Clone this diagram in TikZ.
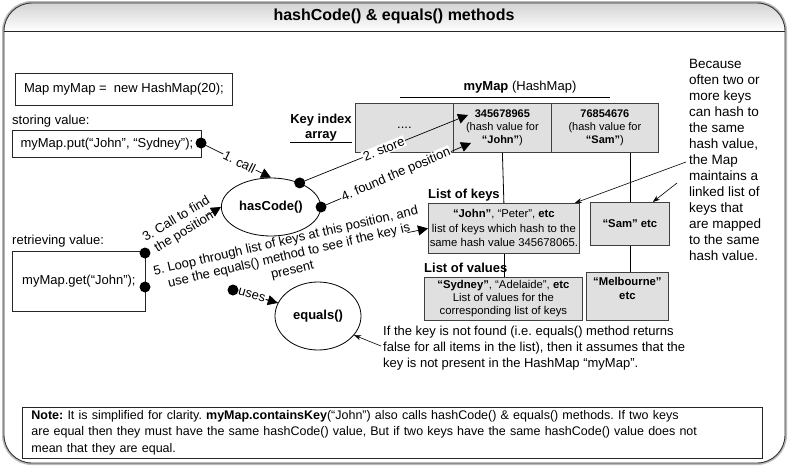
\documentclass[tikz,border=0pt]{standalone}
\usepackage{fontspec}
\setmainfont{Liberation Sans}
\usetikzlibrary{shapes.geometric,arrows.meta,calc}
\frenchspacing
\begin{document}
\begin{tikzpicture}[x=1pt,y=-1pt,
  base/.style={font=\fontsize{13}{16}\selectfont, inner sep=0},
  small/.style={font=\fontsize{11}{13}\selectfont, inner sep=0},
  codebox/.style={draw, black!85, text=black, line width=0.8, base, anchor=north west},
  graybox/.style={draw, black!75, fill=gray!24, line width=0.8, anchor=north west, inner sep=0},
  dot/.style={circle, fill=black, inner sep=0, minimum size=11},
  arr/.style={line width=0.7, -{Triangle[length=10,width=10]}},
  sarr/.style={line width=0.6, -{Stealth[length=7,width=5]}},
  lab/.style={base, fill=white, inner sep=1},
  nlab/.style={base, inner sep=1},
  oval/.style={draw, ellipse, line width=0.8, font=\fontsize{13}{16}\selectfont\bfseries}
]
\useasboundingbox (0,0) rectangle (788,466);
% frame
\draw[line width=4, gray!55, rounded corners=28] (4,3) rectangle (785,463);
\fill[white, rounded corners=28] (4,3) rectangle (785,463);
\begin{scope}
  \clip[rounded corners=28] (4,3) rectangle (785,463);
  \shade[top color=gray!35, bottom color=white] (4,3) rectangle (785,31);
\end{scope}
\draw[line width=0.9, black!80, rounded corners=28] (4,3) rectangle (785,463);
\draw[line width=0.9, black!85] (4,31) -- (785,31);
\node[font=\fontsize{16}{18}\selectfont\bfseries] (title) at (394,16) {hashCode() \& equals() methods};

% left code boxes
\node[codebox, minimum width=217, minimum height=32] (mapbox) at (15,73) {Map myMap = \ new HashMap(20);};
\node[base, anchor=west] (storing) at (12,121) {storing value:};
\node[codebox, minimum width=189, minimum height=27, inner sep=3] (putbox) at (12,130) {myMap.put(“John”, “Sydney”);};
\node[base, anchor=west] (retr) at (12,241) {retrieving value:};
\node[codebox, minimum width=133, minimum height=60, inner sep=3] (getbox) at (12,251) {myMap.get(“John”);};

% ovals
\node[oval, minimum width=86, minimum height=58] (hc) at (271,207) {hasCode()};
\node[oval, minimum width=86, minimum height=68] (eq) at (318,316) {equals()};

% map header
\node[base] (mmhdr) at (520,87) {\textbf{myMap} (HashMap)};
\draw[line width=0.8] (400,97) -- (610,97);
\node[base, font=\fontsize{13}{15}\selectfont\bfseries, align=center] (kia) at (321,128) {Key index\\array};
\draw[line width=0.8] (290,142) -- (352,142);

% array cells
\node[graybox, minimum width=98, minimum height=49] (c1) at (355,103) {};
\node[graybox, minimum width=98, minimum height=49] (c2) at (453,103) {};
\node[graybox, minimum width=107, minimum height=49] (c3) at (551,103) {};
\node[base] at (c1.center) {....};
\node[small, align=center] at (c2.center) {\textbf{345678965}\\(hash value for\\\textbf{“John”})};
\node[small, align=center] at (c3.center) {\textbf{76854676}\\(hash value for\\\textbf{“Sam”})};

% lists
\node[base, font=\fontsize{13}{16}\selectfont\bfseries, anchor=west] (lk) at (428,195) {List of keys};
\node[graybox, minimum width=151, minimum height=50] (keys) at (428,203) {};
\node[small, font=\fontsize{11.3}{14.5}\selectfont, align=center] at (keys.center) {\textbf{“John”}, “Peter”, \textbf{etc}\\list of keys which hash to the\\same hash value 345678065.};
\node[base, font=\fontsize{13}{16}\selectfont\bfseries, anchor=west] (lv) at (424,268) {List of values};
\node[graybox, minimum width=158, minimum height=43] (vals) at (424,277) {};
\node[small, font=\fontsize{11.3}{13}\selectfont, align=center] at (vals.center) {\textbf{“Sydney”}, “Adelaide”, \textbf{etc}\\List of values for the\\corresponding list of keys};
\node[graybox, minimum width=79, minimum height=43] (sam) at (590,202) {};
\node[small, font=\fontsize{11.3}{13}\selectfont\bfseries] at (sam.center) {“Sam” etc};
\node[graybox, minimum width=82, minimum height=48] (melb) at (586,272) {};
\node[small, font=\fontsize{11.3}{14}\selectfont\bfseries, align=center, anchor=north] at ($(melb.north)+(0,5)$) {“Melbourne”\\etc};

\draw[line width=0.8] (c2.south) -- (keys.north);
\draw[line width=0.8] (keys.south) -- (keys.south |- vals.north);
\draw[line width=0.8] (sam.north) -- (sam.north |- c3.south);
\draw[line width=0.8] (sam.south) -- (sam.south |- melb.north);

% right note
\node[base, font=\fontsize{13.5}{16}\selectfont, anchor=north west, align=left] (rnote) at (689,59) {Because\\often two or\\more keys\\can hash to\\the same\\hash value,\\the Map\\maintains a\\linked list of\\keys that\\are mapped\\to the same\\hash value.};
\coordinate (na1) at (686,162);
\coordinate (na2) at (677,183);
\draw[sarr] (na1) -- ($(keys.north east)+(-5,0)$);
\draw[sarr] (na2) -- ($(sam.north east)+(-17,0)$);

% dot positions
\coordinate (p1) at (201,143);
\coordinate (p2) at (hc.40);
\coordinate (p4) at (hc.east);
\coordinate (p3) at (145,253);
\coordinate (p5) at (145,287);
\coordinate (pu) at (233,290);
\coordinate (s2) at (468,115);
\coordinate (s4) at (471,143);

% connectors
\draw[arr] (p1) -- node[lab, sloped, pos=0.55] {1. call} (hc.north);
\draw[arr] (p2) -- node[lab, sloped, pos=0.5] {2. store} (s2);
\draw[arr] (p4) -- node[lab, sloped, pos=0.5] {4. found the position} (s4);
\draw[arr, shorten <=72] (p3) -- (hc.west);
\path (p3) -- node[nlab, sloped, pos=0.5, yshift=5, align=center, font=\fontsize{13}{15}\selectfont] {3. Call to find\\the position} (hc.west);
\draw[arr, shorten <=268] (p5) -- (keys.west);
\path (p5) -- node[nlab, rotate=13, pos=0.5, yshift=1, xshift=3, align=center, font=\fontsize{13}{15}\selectfont] {5. Loop through list of keys at this position, and\\use the equals() method to see if the key is\\present} (keys.west);
\draw[line width=0.7] (pu) -- node[lab, sloped, pos=0.42] {uses} (eq.162);
\draw[arr, shorten <=34] (pu) -- (eq.162);

% dots on top
\node[dot] (d1) at (p1) {};
\node[dot] (d2) at (p2) {};
\node[dot] (d4) at (p4) {};
\node[dot] (d3) at (p3) {};
\node[dot] (d5) at (p5) {};
\node[dot] (du) at (pu) {};

% equals note
\node[base, anchor=north west, align=left] (eqnote) at (383,326) {If the key is not found (i.e. equals() method returns\\false for all items in the list), then it assumes that the\\key is not present in the HashMap “myMap”.};
\coordinate (ena) at (381,346);
\draw[sarr] (ena) -- (eq.-28);

% bottom note
\node[draw, black!85, text=black, line width=0.8, anchor=north west, minimum width=740, minimum height=50, align=left, font=\fontsize{12.5}{16.5}\selectfont, inner xsep=9, inner ysep=3, text width=722] (nbox) at (22,407) {\textbf{Note:} It is simplified for clarity. \textbf{myMap.containsKey}(“John”) also calls hashCode() \& equals() methods. If two keys\\are equal then they must have the same hashCode() value, But if two keys have the same hashCode() value does not\\mean that they are equal.};
\end{tikzpicture}
\end{document}
